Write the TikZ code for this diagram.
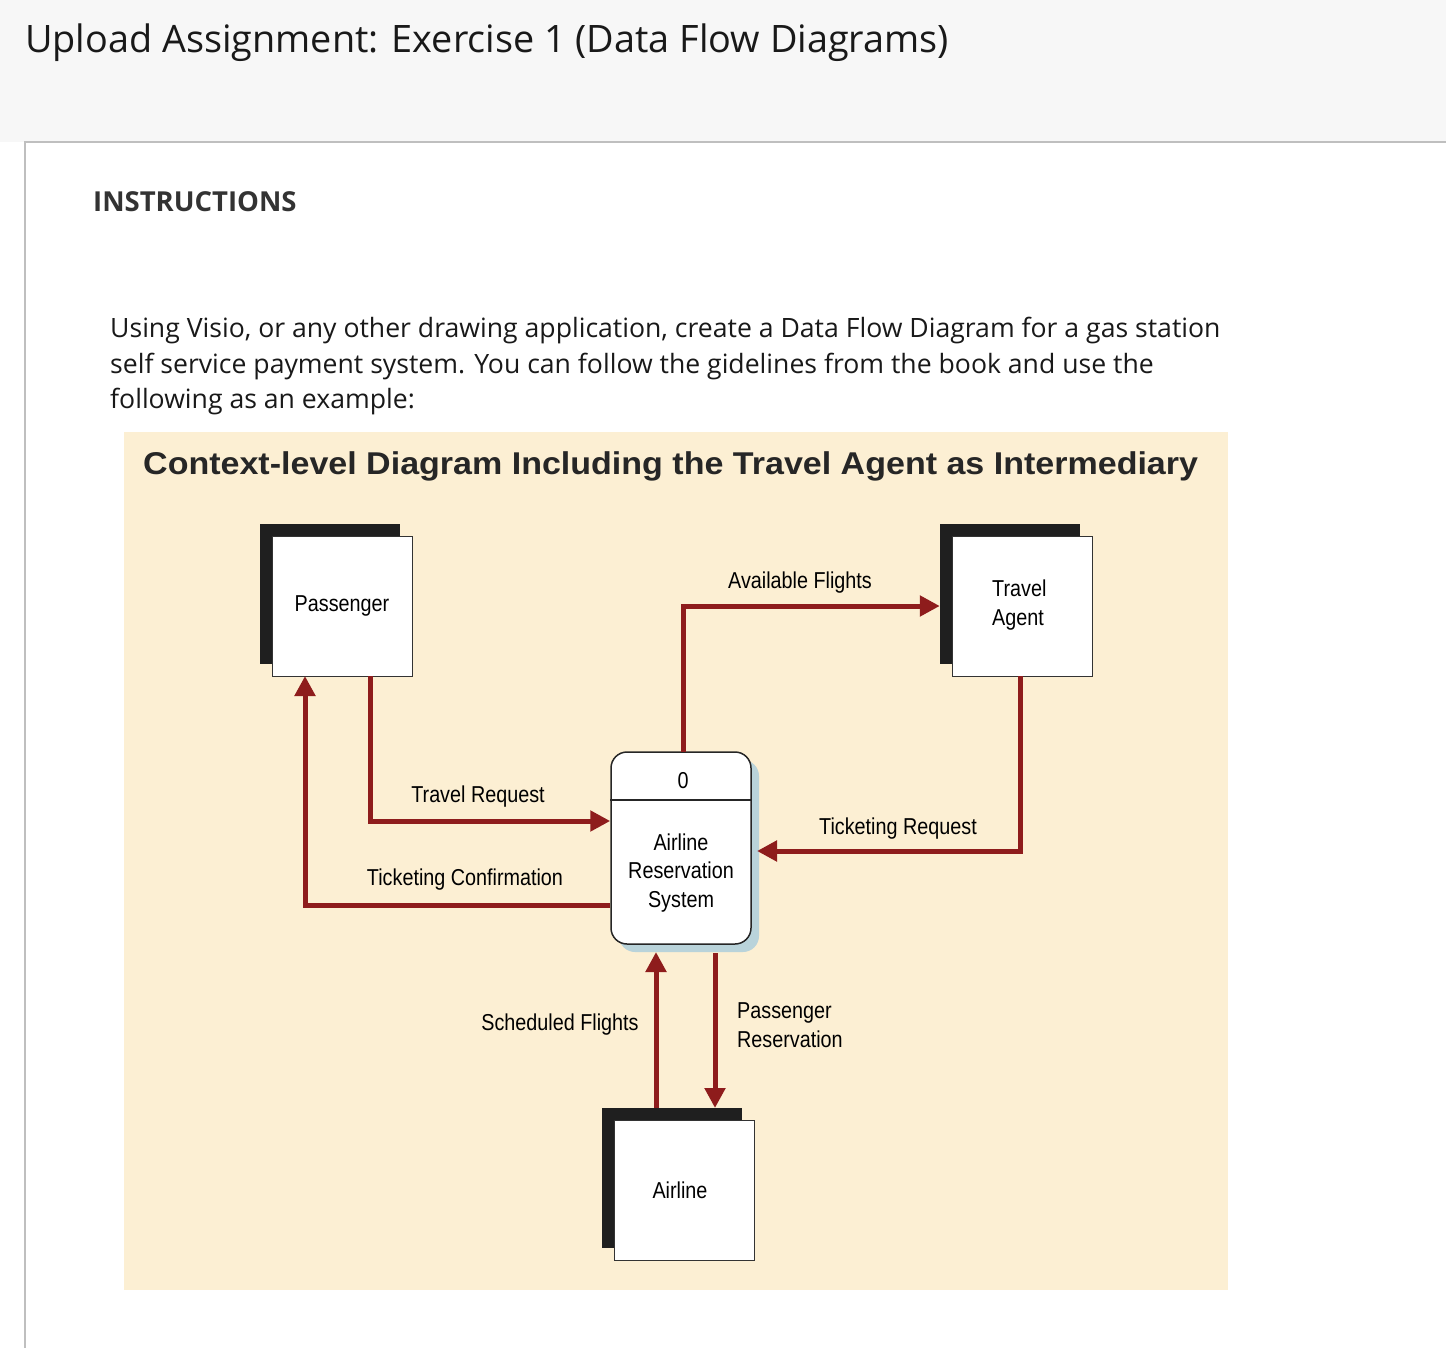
\documentclass[tikz,border=0pt]{standalone}
\usepackage{fontspec}
\setmainfont{Open Sans}
\newfontfamily\hd[FakeStretch=1.08]{Liberation Sans}
\newfontfamily\cond[FakeStretch=0.86]{Liberation Sans}
\usetikzlibrary{arrows.meta}
\definecolor{flow}{HTML}{8E1C1C}
\definecolor{beige}{HTML}{FCEFD3}
\definecolor{pshadow}{HTML}{B9D3DA}
\tikzset{
 lbl/.style={font=\cond\fontsize{23}{28}\selectfont,inner sep=0pt},
 ent/.style={draw=black!80,line width=1pt,fill=white,minimum width=140pt,minimum height=140pt,inner sep=0pt,align=left,font=\cond\fontsize{23}{28}\selectfont},
 shad/.style={fill=black!88,minimum width=140pt,minimum height=140pt,inner sep=0pt},
 flowline/.style={draw=flow,line width=5pt,-{Triangle[length=20pt,width=20pt]}},
}
\begin{document}
\begin{tikzpicture}[x=1pt,y=-1pt]
\useasboundingbox (0,0) rectangle (1446,1348);
\fill[black!3] (0,0) rectangle (1446,142);
\fill[white] (25,142) rectangle (1446,1348);
\draw[black!25,line width=1.5pt] (25,1348) -- (25,142) -- (1446,142);
\node[anchor=base west,inner sep=0pt,font=\fontsize{37.8}{46}\selectfont,text=black!90] (ttl) at (25,53) {Upload Assignment: Exercise 1 (Data Flow Diagrams)};
\node[anchor=base west,inner sep=0pt,font=\bfseries\fontsize{27.5}{32}\selectfont,text=black!80] (ins) at (93,212) {INSTRUCTIONS};
\node[anchor=north west,inner sep=0pt,align=left,font=\fontsize{26.6}{35.5}\selectfont,text=black!90] (par) at (110,317) {Using Visio, or any other drawing application, create a Data Flow Diagram for a gas station\\self service payment system. You can follow the gidelines from the book and use the\\following as an example:};
\fill[beige] (124,432) rectangle (1228,1290);
\node[anchor=base west,inner sep=0pt,font=\hd\bfseries\fontsize{31.5}{36}\selectfont,text=black!85] (hdr) at (143,474) {Context-level Diagram Including the Travel Agent as Intermediary};
% entities
\node[shad] (ps) at (330,594) {};
\node[ent] (pas) at (342,606) {Passenger};
\node[shad] (ts) at (1010,594) {};
\node[ent] (ta) at (1022,606) {};
\node[lbl,align=left,anchor=west,font=\cond\fontsize{23}{28.5}\selectfont] (tat) at (992,605) {Travel\\Agent};
\node[shad] (as) at (672,1178) {};
\node[ent] (air) at (684,1190) {};
\node[lbl] (airt) at (680,1190) {Airline};
% process
\fill[pshadow,rounded corners=16pt] (619,760) rectangle (759,952);
\node[draw=black!85,line width=1.5pt,fill=white,rounded corners=16pt,minimum width=140pt,minimum height=192pt,inner sep=0pt] (proc) at (681,848) {};
\draw[black!85,line width=1.5pt] (proc.west|-0,800) -- (proc.east|-0,800);
\node[lbl] (pid) at (683,781) {0};
\node[lbl,align=center,font=\cond\fontsize{23}{28.5}\selectfont] (pname) at (681,873) {Airline\\Reservation\\System};
% flows
\coordinate (af1) at (683,752);
\draw[flowline] (af1) -- (683,606) -- (ts.west|-0,606);
\node[lbl] (laf) at (800,583) {Available Flights};
\draw[flowline] (370,676) -- (370,821) -- (proc.west|-0,821);
\node[lbl] (ltr) at (478,797) {Travel Request};
\draw[flowline] (proc.west|-0,905) -- (305,905) -- (305,676);
\node[lbl] (ltc) at (465,880) {Ticketing Confirmation};
\draw[flowline] (1020,676) -- (1020,851) -- (757,851);
\node[lbl] (ltq) at (898,829) {Ticketing Request};
\draw[flowline] (656,1108) -- (656,952);
\node[lbl] (lsf) at (560,1025) {Scheduled Flights};
\draw[flowline] (715,953) -- (715,1108);
\node[lbl,anchor=west,align=left,font=\cond\fontsize{23}{28.5}\selectfont] (lpr) at (737,1025) {Passenger\\Reservation};
\end{tikzpicture}
\end{document}
